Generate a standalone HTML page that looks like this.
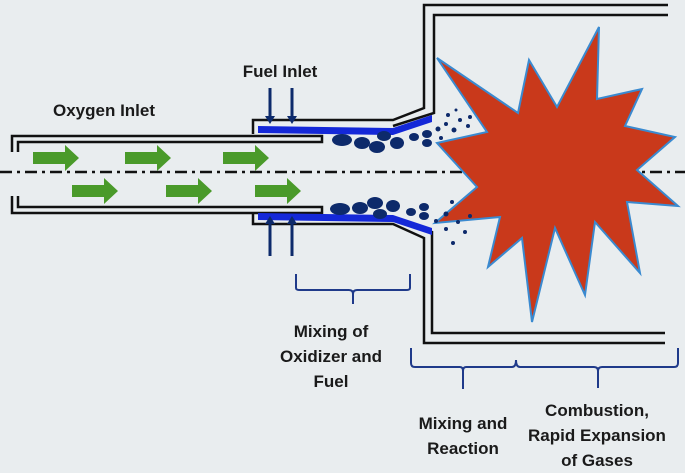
<!DOCTYPE html>
<html><head><meta charset="utf-8"><style>
html,body{margin:0;padding:0;background:#e9edef;}
svg{display:block}
text{font-family:"Liberation Sans",sans-serif;font-weight:bold;fill:#1a1a1a;font-size:17px}
</style></head><body>
<svg width="685" height="473" viewBox="0 0 685 473" xmlns="http://www.w3.org/2000/svg">
<rect width="685" height="473" fill="#e9edef"/>
<!-- chamber walls -->
<g fill="none" stroke="#111" stroke-width="2.5">
<polyline points="668,5 424,5 424,108 393,120 253,120 253,134"/>
<polyline points="668,15 434,15 434,113 393,126"/>
<polyline points="665,343 424,343 424,238 393,224 253,224 253,212"/>
<polyline points="665,333 432,333 432,232 393,219"/>
<!-- oxygen tube -->
<polyline points="12,152 12,136 322,136 322,142 18,142 18,152"/>
<polyline points="12,196 12,213 322,213 322,207 18,207 18,196"/>
</g>
<!-- blue fuel strips -->
<polygon points="258,126 393,128 432,115 432,122 393,135 258,133" fill="#1428d8"/>
<polygon points="258,213 393,215 432,228 432,235 393,222 258,220" fill="#1428d8"/>
<!-- centerline -->
<line x1="0" y1="172" x2="685" y2="172" stroke="#111" stroke-width="2.5" stroke-dasharray="12,5,3,5"/>
<!-- fuel arrows -->
<g stroke="#0d2a6b" stroke-width="3" fill="#0d2a6b">
<line x1="270" y1="88" x2="270" y2="118"/><polygon points="265,116 275,116 270,124" stroke="none"/>
<line x1="292" y1="88" x2="292" y2="118"/><polygon points="287,116 297,116 292,124" stroke="none"/>
<line x1="270" y1="256" x2="270" y2="222"/><polygon points="265,224 275,224 270,216" stroke="none"/>
<line x1="292" y1="256" x2="292" y2="222"/><polygon points="287,224 297,224 292,216" stroke="none"/>
</g>
<!-- green arrows -->
<defs><path id="ga" d="M0,-6 H32 V-13 L46,0 L32,13 V6 H0 Z" fill="#4a9a2a"/></defs>
<use href="#ga" x="33" y="158"/><use href="#ga" x="125" y="158"/><use href="#ga" x="223" y="158"/>
<use href="#ga" x="72" y="191"/><use href="#ga" x="166" y="191"/><use href="#ga" x="255" y="191"/>
<!-- explosion -->
<polygon points="437,58 518,113 529,60 557,107 599,27 597,99 642,89 625,126 675,137 637,170 678,206 627,202 640,273 595,222 585,295 555,228 532,322 522,238 488,267 500,217 435,223 477,187 437,143 487,132" fill="#c9391b" stroke="#3a8ad0" stroke-width="2" stroke-linejoin="miter"/>
<!-- droplets -->
<g fill="#0d2a6b">
<ellipse cx="342" cy="140" rx="10" ry="6"/><ellipse cx="362" cy="143" rx="8" ry="6"/><ellipse cx="377" cy="147" rx="8" ry="6"/><ellipse cx="384" cy="136" rx="7" ry="5"/><ellipse cx="397" cy="143" rx="7" ry="6"/><ellipse cx="414" cy="137" rx="5" ry="4"/><ellipse cx="427" cy="134" rx="5" ry="4"/><ellipse cx="427" cy="143" rx="5" ry="4"/>
<circle cx="438" cy="129" r="2.5"/><circle cx="446" cy="124" r="2"/><circle cx="454" cy="130" r="2.5"/><circle cx="460" cy="120" r="2"/><circle cx="448" cy="115" r="2"/><circle cx="468" cy="126" r="2"/><circle cx="441" cy="138" r="2"/><circle cx="456" cy="110" r="1.5"/><circle cx="470" cy="117" r="2"/>
<ellipse cx="340" cy="209" rx="10" ry="6"/><ellipse cx="360" cy="208" rx="8" ry="6"/><ellipse cx="375" cy="203" rx="8" ry="6"/><ellipse cx="380" cy="214" rx="7" ry="5"/><ellipse cx="393" cy="206" rx="7" ry="6"/><ellipse cx="411" cy="212" rx="5" ry="4"/><ellipse cx="424" cy="207" rx="5" ry="4"/><ellipse cx="424" cy="216" rx="5" ry="4"/>
<circle cx="436" cy="221" r="2"/><circle cx="446" cy="214" r="2.5"/><circle cx="452" cy="202" r="2"/><circle cx="458" cy="222" r="2"/><circle cx="446" cy="229" r="2"/><circle cx="465" cy="232" r="2"/><circle cx="453" cy="243" r="2"/><circle cx="470" cy="216" r="2"/>
</g>
<!-- braces -->
<g fill="none" stroke="#1f3a8a" stroke-width="2">
<path d="M296,274 V288 Q296,290 300,290 H349 Q353,290 353,294 V304 M353,294 Q353,290 357,290 H406 Q410,290 410,288 V274"/>
<path d="M411,348 V363 Q411,367 415,367 H460 Q463,367 463,371 V389 M463,371 Q463,367 466,367 H512 Q516,367 516,360 M516,360 Q516,367 520,367 H594 Q598,367 598,371 V388 M598,371 Q598,367 602,367 H674 Q678,367 678,363 V348"/>
</g>
<!-- labels -->
<text x="104" y="116" text-anchor="middle">Oxygen Inlet</text>
<text x="280" y="77" text-anchor="middle">Fuel Inlet</text>
<text x="331" y="337" text-anchor="middle">Mixing of</text>
<text x="331" y="362" text-anchor="middle">Oxidizer and</text>
<text x="331" y="387" text-anchor="middle">Fuel</text>
<text x="463" y="429" text-anchor="middle">Mixing and</text>
<text x="463" y="454" text-anchor="middle">Reaction</text>
<text x="597" y="416" text-anchor="middle">Combustion,</text>
<text x="597" y="441" text-anchor="middle">Rapid Expansion</text>
<text x="597" y="466" text-anchor="middle">of Gases</text>
</svg>
</body></html>
